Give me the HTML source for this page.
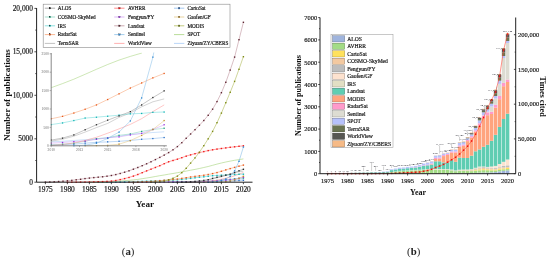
<!DOCTYPE html>
<html><head><meta charset="utf-8"><title>Figure</title>
<style>html,body{margin:0;padding:0;background:#fff}svg{display:block}</style></head>
<body>
<svg width="550" height="260" viewBox="0 0 550 260">
<rect width="550" height="260" fill="#fff"/>
<g id="a-main">
<polyline fill="none" stroke="#9cc4f5" stroke-width="0.55" points="146.6,182.2 151.0,182.2 155.4,182.1 159.8,182.1 164.2,182.0 168.6,181.9 173.0,181.9 177.4,181.8 181.8,181.7 186.2,181.6 190.6,181.5 195.0,181.4 199.4,181.3 203.8,181.1 208.2,180.9 212.6,180.8 217.0,180.6 221.4,180.3 225.8,179.9 230.2,179.6 234.6,179.3 239.0,179.1 243.4,178.9"/>
<polyline fill="none" stroke="#7fb0e8" stroke-width="0.55" points="173.0,182.2 177.4,182.2 181.8,182.2 186.2,182.1 190.6,182.1 195.0,182.0 199.4,182.0 203.8,181.9 208.2,181.8 212.6,181.6 217.0,181.4 221.4,181.3 225.8,181.1 230.2,181.0 234.6,180.7 239.0,180.5 243.4,180.2"/>
<g fill="#2b6fc4"><rect x="172.3" y="181.5" width="1.4" height="1.4"/><rect x="176.7" y="181.5" width="1.4" height="1.4"/><rect x="181.1" y="181.5" width="1.4" height="1.4"/><rect x="185.5" y="181.5" width="1.4" height="1.4"/><rect x="189.9" y="181.4" width="1.4" height="1.4"/><rect x="194.3" y="181.4" width="1.4" height="1.4"/><rect x="198.7" y="181.3" width="1.4" height="1.4"/><rect x="203.1" y="181.2" width="1.4" height="1.4"/><rect x="207.5" y="181.1" width="1.4" height="1.4"/><rect x="211.9" y="180.9" width="1.4" height="1.4"/><rect x="216.3" y="180.7" width="1.4" height="1.4"/><rect x="220.7" y="180.6" width="1.4" height="1.4"/><rect x="225.1" y="180.5" width="1.4" height="1.4"/><rect x="229.5" y="180.3" width="1.4" height="1.4"/><rect x="233.9" y="180.0" width="1.4" height="1.4"/><rect x="238.3" y="179.8" width="1.4" height="1.4"/><rect x="242.7" y="179.6" width="1.4" height="1.4"/></g>
<polyline fill="none" stroke="#7fd0b8" stroke-width="0.55" points="181.8,182.2 186.2,182.2 190.6,182.2 195.0,182.1 199.4,182.0 203.8,181.8 208.2,181.6 212.6,181.1 217.0,180.5 221.4,180.3 225.8,179.7 230.2,179.4 234.6,178.8 239.0,178.4 243.4,178.1"/>
<g fill="#1f9d7c"><rect x="181.1" y="181.5" width="1.4" height="1.4"/><rect x="185.5" y="181.5" width="1.4" height="1.4"/><rect x="189.9" y="181.5" width="1.4" height="1.4"/><rect x="194.3" y="181.4" width="1.4" height="1.4"/><rect x="198.7" y="181.4" width="1.4" height="1.4"/><rect x="203.1" y="181.1" width="1.4" height="1.4"/><rect x="207.5" y="180.9" width="1.4" height="1.4"/><rect x="211.9" y="180.5" width="1.4" height="1.4"/><rect x="216.3" y="179.8" width="1.4" height="1.4"/><rect x="220.7" y="179.6" width="1.4" height="1.4"/><rect x="225.1" y="179.0" width="1.4" height="1.4"/><rect x="229.5" y="178.7" width="1.4" height="1.4"/><rect x="233.9" y="178.1" width="1.4" height="1.4"/><rect x="238.3" y="177.7" width="1.4" height="1.4"/><rect x="242.7" y="177.4" width="1.4" height="1.4"/></g>
<polyline fill="none" stroke="#cf9af5" stroke-width="0.55" points="107.0,182.2 111.4,182.2 115.8,182.2 120.2,182.2 124.6,182.2 129.0,182.2 133.4,182.1 137.8,182.1 142.2,182.1 146.6,182.1 151.0,182.1 155.4,182.0 159.8,182.0 164.2,182.0 168.6,181.9 173.0,181.9 177.4,181.9 181.8,181.8 186.2,181.8 190.6,181.7 195.0,181.7 199.4,181.6 203.8,181.4 208.2,181.2 212.6,181.1 217.0,180.7 221.4,180.3 225.8,180.1 230.2,179.6 234.6,179.3 239.0,178.4 243.4,177.2"/>
<g fill="#9a32e0"><rect x="106.3" y="181.5" width="1.4" height="1.4"/><rect x="110.7" y="181.5" width="1.4" height="1.4"/><rect x="115.1" y="181.5" width="1.4" height="1.4"/><rect x="119.5" y="181.5" width="1.4" height="1.4"/><rect x="123.9" y="181.5" width="1.4" height="1.4"/><rect x="128.3" y="181.5" width="1.4" height="1.4"/><rect x="132.7" y="181.5" width="1.4" height="1.4"/><rect x="137.1" y="181.5" width="1.4" height="1.4"/><rect x="141.5" y="181.4" width="1.4" height="1.4"/><rect x="145.9" y="181.4" width="1.4" height="1.4"/><rect x="150.3" y="181.4" width="1.4" height="1.4"/><rect x="154.7" y="181.4" width="1.4" height="1.4"/><rect x="159.1" y="181.3" width="1.4" height="1.4"/><rect x="163.5" y="181.3" width="1.4" height="1.4"/><rect x="167.9" y="181.3" width="1.4" height="1.4"/><rect x="172.3" y="181.2" width="1.4" height="1.4"/><rect x="176.7" y="181.2" width="1.4" height="1.4"/><rect x="181.1" y="181.2" width="1.4" height="1.4"/><rect x="185.5" y="181.1" width="1.4" height="1.4"/><rect x="189.9" y="181.1" width="1.4" height="1.4"/><rect x="194.3" y="181.0" width="1.4" height="1.4"/><rect x="198.7" y="180.9" width="1.4" height="1.4"/><rect x="203.1" y="180.7" width="1.4" height="1.4"/><rect x="207.5" y="180.5" width="1.4" height="1.4"/><rect x="211.9" y="180.4" width="1.4" height="1.4"/><rect x="216.3" y="180.0" width="1.4" height="1.4"/><rect x="220.7" y="179.6" width="1.4" height="1.4"/><rect x="225.1" y="179.4" width="1.4" height="1.4"/><rect x="229.5" y="179.0" width="1.4" height="1.4"/><rect x="233.9" y="178.6" width="1.4" height="1.4"/><rect x="238.3" y="177.7" width="1.4" height="1.4"/><rect x="242.7" y="176.6" width="1.4" height="1.4"/></g>
<polyline fill="none" stroke="#e0c27a" stroke-width="0.55" points="212.6,182.2 217.0,182.2 221.4,182.1 225.8,181.8 230.2,181.0 234.6,179.7 239.0,178.3 243.4,176.2"/>
<g fill="#c2922e"><rect x="211.9" y="181.5" width="1.4" height="1.4"/><rect x="216.3" y="181.5" width="1.4" height="1.4"/><rect x="220.7" y="181.4" width="1.4" height="1.4"/><rect x="225.1" y="181.1" width="1.4" height="1.4"/><rect x="229.5" y="180.3" width="1.4" height="1.4"/><rect x="233.9" y="179.1" width="1.4" height="1.4"/><rect x="238.3" y="177.7" width="1.4" height="1.4"/><rect x="242.7" y="175.6" width="1.4" height="1.4"/></g>
<polyline fill="none" stroke="#ff8f8f" stroke-width="0.55" points="186.2,182.2 190.6,182.2 195.0,182.2 199.4,182.1 203.8,181.9 208.2,181.5 212.6,180.9 217.0,180.2 221.4,179.2 225.8,178.2 230.2,177.2 234.6,175.8 239.0,174.1 243.4,172.5"/>
<polyline fill="none" stroke="#a8a8a8" stroke-width="0.55" points="181.8,182.2 186.2,182.2 190.6,182.0 195.0,181.6 199.4,181.1 203.8,180.6 208.2,179.9 212.6,179.0 217.0,177.9 221.4,176.9 225.8,175.5 230.2,174.5 234.6,173.0 239.0,171.8 243.4,171.1"/>
<polyline fill="none" stroke="#5fd6d6" stroke-width="0.55" points="98.2,182.2 102.6,182.2 107.0,182.2 111.4,182.1 115.8,182.1 120.2,182.0 124.6,181.9 129.0,181.8 133.4,181.7 137.8,181.5 142.2,181.3 146.6,181.2 151.0,181.0 155.4,180.8 159.8,180.6 164.2,180.4 168.6,180.2 173.0,180.0 177.4,179.8 181.8,179.4 186.2,178.9 190.6,178.4 195.0,177.8 199.4,177.2 203.8,176.8 208.2,176.2 212.6,175.7 217.0,175.4 221.4,175.2 225.8,175.0 230.2,174.7 234.6,174.6 239.0,174.3 243.4,174.2"/>
<g fill="#12b4b4"><rect x="97.5" y="181.5" width="1.4" height="1.4"/><rect x="101.9" y="181.5" width="1.4" height="1.4"/><rect x="106.3" y="181.5" width="1.4" height="1.4"/><rect x="110.7" y="181.5" width="1.4" height="1.4"/><rect x="115.1" y="181.4" width="1.4" height="1.4"/><rect x="119.5" y="181.3" width="1.4" height="1.4"/><rect x="123.9" y="181.3" width="1.4" height="1.4"/><rect x="128.3" y="181.1" width="1.4" height="1.4"/><rect x="132.7" y="181.0" width="1.4" height="1.4"/><rect x="137.1" y="180.8" width="1.4" height="1.4"/><rect x="141.5" y="180.7" width="1.4" height="1.4"/><rect x="145.9" y="180.5" width="1.4" height="1.4"/><rect x="150.3" y="180.3" width="1.4" height="1.4"/><rect x="154.7" y="180.1" width="1.4" height="1.4"/><rect x="159.1" y="179.9" width="1.4" height="1.4"/><rect x="163.5" y="179.7" width="1.4" height="1.4"/><rect x="167.9" y="179.5" width="1.4" height="1.4"/><rect x="172.3" y="179.4" width="1.4" height="1.4"/><rect x="176.7" y="179.1" width="1.4" height="1.4"/><rect x="181.1" y="178.8" width="1.4" height="1.4"/><rect x="185.5" y="178.2" width="1.4" height="1.4"/><rect x="189.9" y="177.7" width="1.4" height="1.4"/><rect x="194.3" y="177.1" width="1.4" height="1.4"/><rect x="198.7" y="176.5" width="1.4" height="1.4"/><rect x="203.1" y="176.1" width="1.4" height="1.4"/><rect x="207.5" y="175.6" width="1.4" height="1.4"/><rect x="211.9" y="175.0" width="1.4" height="1.4"/><rect x="216.3" y="174.8" width="1.4" height="1.4"/><rect x="220.7" y="174.5" width="1.4" height="1.4"/><rect x="225.1" y="174.3" width="1.4" height="1.4"/><rect x="229.5" y="174.0" width="1.4" height="1.4"/><rect x="233.9" y="173.9" width="1.4" height="1.4"/><rect x="238.3" y="173.6" width="1.4" height="1.4"/><rect x="242.7" y="173.5" width="1.4" height="1.4"/></g>
<polyline fill="none" stroke="#8c8c8c" stroke-width="0.55" points="177.4,182.2 181.8,182.2 186.2,182.1 190.6,181.8 195.0,181.4 199.4,180.9 203.8,180.4 208.2,179.6 212.6,178.4 217.0,177.2 221.4,176.2 225.8,175.1 230.2,174.1 234.6,172.5 239.0,170.8 243.4,169.2"/>
<g fill="#2a2a2a"><rect x="176.7" y="181.5" width="1.4" height="1.4"/><rect x="181.1" y="181.5" width="1.4" height="1.4"/><rect x="185.5" y="181.4" width="1.4" height="1.4"/><rect x="189.9" y="181.1" width="1.4" height="1.4"/><rect x="194.3" y="180.7" width="1.4" height="1.4"/><rect x="198.7" y="180.2" width="1.4" height="1.4"/><rect x="203.1" y="179.7" width="1.4" height="1.4"/><rect x="207.5" y="179.0" width="1.4" height="1.4"/><rect x="211.9" y="177.7" width="1.4" height="1.4"/><rect x="216.3" y="176.6" width="1.4" height="1.4"/><rect x="220.7" y="175.5" width="1.4" height="1.4"/><rect x="225.1" y="174.5" width="1.4" height="1.4"/><rect x="229.5" y="173.5" width="1.4" height="1.4"/><rect x="233.9" y="171.9" width="1.4" height="1.4"/><rect x="238.3" y="170.1" width="1.4" height="1.4"/><rect x="242.7" y="168.6" width="1.4" height="1.4"/></g>
<polyline fill="none" stroke="#f79a66" stroke-width="0.55" points="129.0,182.2 133.4,182.2 137.8,182.1 142.2,181.9 146.6,181.7 151.0,181.4 155.4,181.1 159.8,180.7 164.2,180.3 168.6,179.9 173.0,179.5 177.4,179.0 181.8,178.4 186.2,177.7 190.6,177.0 195.0,176.4 199.4,175.8 203.8,175.2 208.2,174.5 212.6,173.6 217.0,172.5 221.4,171.3 225.8,169.9 230.2,168.6 234.6,167.4 239.0,166.2 243.4,165.1"/>
<g fill="#e8581a"><rect x="128.3" y="181.5" width="1.4" height="1.4"/><rect x="132.7" y="181.5" width="1.4" height="1.4"/><rect x="137.1" y="181.4" width="1.4" height="1.4"/><rect x="141.5" y="181.2" width="1.4" height="1.4"/><rect x="145.9" y="181.0" width="1.4" height="1.4"/><rect x="150.3" y="180.7" width="1.4" height="1.4"/><rect x="154.7" y="180.4" width="1.4" height="1.4"/><rect x="159.1" y="180.0" width="1.4" height="1.4"/><rect x="163.5" y="179.6" width="1.4" height="1.4"/><rect x="167.9" y="179.2" width="1.4" height="1.4"/><rect x="172.3" y="178.8" width="1.4" height="1.4"/><rect x="176.7" y="178.4" width="1.4" height="1.4"/><rect x="181.1" y="177.7" width="1.4" height="1.4"/><rect x="185.5" y="177.0" width="1.4" height="1.4"/><rect x="189.9" y="176.3" width="1.4" height="1.4"/><rect x="194.3" y="175.7" width="1.4" height="1.4"/><rect x="198.7" y="175.1" width="1.4" height="1.4"/><rect x="203.1" y="174.6" width="1.4" height="1.4"/><rect x="207.5" y="173.8" width="1.4" height="1.4"/><rect x="211.9" y="172.9" width="1.4" height="1.4"/><rect x="216.3" y="171.9" width="1.4" height="1.4"/><rect x="220.7" y="170.6" width="1.4" height="1.4"/><rect x="225.1" y="169.2" width="1.4" height="1.4"/><rect x="229.5" y="167.9" width="1.4" height="1.4"/><rect x="233.9" y="166.7" width="1.4" height="1.4"/><rect x="238.3" y="165.5" width="1.4" height="1.4"/><rect x="242.7" y="164.4" width="1.4" height="1.4"/></g>
<polyline fill="none" stroke="#9ccf6e" stroke-width="0.55" points="89.4,182.2 93.8,182.2 98.2,182.1 102.6,182.0 107.0,181.9 111.4,181.7 115.8,181.4 120.2,181.1 124.6,180.7 129.0,180.3 133.4,179.9 137.8,179.4 142.2,178.7 146.6,178.0 151.0,177.3 155.4,176.5 159.8,175.7 164.2,175.0 168.6,174.2 173.0,173.5 177.4,172.7 181.8,171.9 186.2,171.1 190.6,170.2 195.0,169.4 199.4,168.5 203.8,167.5 208.2,166.5 212.6,165.3 217.0,164.1 221.4,163.0 225.8,162.0 230.2,161.1 234.6,160.3 239.0,159.6 243.4,158.9"/>
<polyline fill="none" stroke="#ff5a5a" stroke-width="0.55" points="67.4,182.2 71.8,182.2 76.2,182.1 80.6,182.1 85.0,182.0 89.4,181.9 93.8,181.8 98.2,181.7 102.6,181.5 107.0,181.4 111.4,181.1 115.8,180.5 120.2,179.6 124.6,178.6 129.0,177.4 133.4,176.1 137.8,174.5 142.2,172.6 146.6,170.9 151.0,169.2 155.4,167.4 159.8,165.7 164.2,163.7 168.6,161.8 173.0,160.4 177.4,159.2 181.8,157.6 186.2,156.1 190.6,154.8 195.0,153.7 199.4,152.6 203.8,151.6 208.2,150.6 212.6,149.8 217.0,149.1 221.4,148.5 225.8,147.9 230.2,147.3 234.6,146.8 239.0,146.3 243.4,145.8"/>
<g fill="#f01818"><rect x="66.7" y="181.5" width="1.4" height="1.4"/><rect x="71.1" y="181.5" width="1.4" height="1.4"/><rect x="75.5" y="181.5" width="1.4" height="1.4"/><rect x="79.9" y="181.4" width="1.4" height="1.4"/><rect x="84.3" y="181.4" width="1.4" height="1.4"/><rect x="88.7" y="181.3" width="1.4" height="1.4"/><rect x="93.1" y="181.2" width="1.4" height="1.4"/><rect x="97.5" y="181.0" width="1.4" height="1.4"/><rect x="101.9" y="180.9" width="1.4" height="1.4"/><rect x="106.3" y="180.7" width="1.4" height="1.4"/><rect x="110.7" y="180.4" width="1.4" height="1.4"/><rect x="115.1" y="179.8" width="1.4" height="1.4"/><rect x="119.5" y="178.9" width="1.4" height="1.4"/><rect x="123.9" y="177.9" width="1.4" height="1.4"/><rect x="128.3" y="176.8" width="1.4" height="1.4"/><rect x="132.7" y="175.4" width="1.4" height="1.4"/><rect x="137.1" y="173.8" width="1.4" height="1.4"/><rect x="141.5" y="172.0" width="1.4" height="1.4"/><rect x="145.9" y="170.2" width="1.4" height="1.4"/><rect x="150.3" y="168.5" width="1.4" height="1.4"/><rect x="154.7" y="166.8" width="1.4" height="1.4"/><rect x="159.1" y="165.0" width="1.4" height="1.4"/><rect x="163.5" y="163.0" width="1.4" height="1.4"/><rect x="167.9" y="161.1" width="1.4" height="1.4"/><rect x="172.3" y="159.8" width="1.4" height="1.4"/><rect x="176.7" y="158.5" width="1.4" height="1.4"/><rect x="181.1" y="157.0" width="1.4" height="1.4"/><rect x="185.5" y="155.5" width="1.4" height="1.4"/><rect x="189.9" y="154.2" width="1.4" height="1.4"/><rect x="194.3" y="153.0" width="1.4" height="1.4"/><rect x="198.7" y="151.9" width="1.4" height="1.4"/><rect x="203.1" y="150.9" width="1.4" height="1.4"/><rect x="207.5" y="149.9" width="1.4" height="1.4"/><rect x="211.9" y="149.1" width="1.4" height="1.4"/><rect x="216.3" y="148.4" width="1.4" height="1.4"/><rect x="220.7" y="147.8" width="1.4" height="1.4"/><rect x="225.1" y="147.2" width="1.4" height="1.4"/><rect x="229.5" y="146.6" width="1.4" height="1.4"/><rect x="233.9" y="146.1" width="1.4" height="1.4"/><rect x="238.3" y="145.6" width="1.4" height="1.4"/><rect x="242.7" y="145.1" width="1.4" height="1.4"/></g>
<polyline fill="none" stroke="#7db8e6" stroke-width="0.55" points="208.2,182.2 212.6,182.1 217.0,181.6 221.4,180.5 225.8,179.0 230.2,176.3 234.6,170.9 239.0,161.3 243.4,147.0"/>
<g fill="#2c86cf"><rect x="207.5" y="181.5" width="1.4" height="1.4"/><rect x="211.9" y="181.4" width="1.4" height="1.4"/><rect x="216.3" y="180.9" width="1.4" height="1.4"/><rect x="220.7" y="179.8" width="1.4" height="1.4"/><rect x="225.1" y="178.3" width="1.4" height="1.4"/><rect x="229.5" y="175.7" width="1.4" height="1.4"/><rect x="233.9" y="170.2" width="1.4" height="1.4"/><rect x="238.3" y="160.6" width="1.4" height="1.4"/><rect x="242.7" y="146.3" width="1.4" height="1.4"/></g>
<polyline fill="none" stroke="#a9b44a" stroke-width="0.55" points="151.0,182.2 155.4,182.1 159.8,181.8 164.2,181.1 168.6,179.9 173.0,178.3 177.4,176.1 181.8,172.6 186.2,168.3 190.6,163.1 195.0,157.9 199.4,152.2 203.8,145.7 208.2,138.8 212.6,131.4 217.0,122.7 221.4,113.1 225.8,102.7 230.2,92.3 234.6,81.4 239.0,69.2 243.4,56.6"/>
<g fill="#7d8a14"><rect x="150.3" y="181.5" width="1.4" height="1.4"/><rect x="154.7" y="181.4" width="1.4" height="1.4"/><rect x="159.1" y="181.1" width="1.4" height="1.4"/><rect x="163.5" y="180.4" width="1.4" height="1.4"/><rect x="167.9" y="179.3" width="1.4" height="1.4"/><rect x="172.3" y="177.6" width="1.4" height="1.4"/><rect x="176.7" y="175.4" width="1.4" height="1.4"/><rect x="181.1" y="172.0" width="1.4" height="1.4"/><rect x="185.5" y="167.6" width="1.4" height="1.4"/><rect x="189.9" y="162.4" width="1.4" height="1.4"/><rect x="194.3" y="157.2" width="1.4" height="1.4"/><rect x="198.7" y="151.5" width="1.4" height="1.4"/><rect x="203.1" y="145.0" width="1.4" height="1.4"/><rect x="207.5" y="138.1" width="1.4" height="1.4"/><rect x="211.9" y="130.7" width="1.4" height="1.4"/><rect x="216.3" y="122.0" width="1.4" height="1.4"/><rect x="220.7" y="112.4" width="1.4" height="1.4"/><rect x="225.1" y="102.0" width="1.4" height="1.4"/><rect x="229.5" y="91.6" width="1.4" height="1.4"/><rect x="233.9" y="80.7" width="1.4" height="1.4"/><rect x="238.3" y="68.6" width="1.4" height="1.4"/><rect x="242.7" y="56.0" width="1.4" height="1.4"/></g>
<polyline fill="none" stroke="#b98a94" stroke-width="0.55" points="45.4,182.1 49.8,182.0 54.2,181.8 58.6,181.5 63.0,181.2 67.4,180.8 71.8,180.3 76.2,179.8 80.6,179.2 85.0,178.6 89.4,178.0 93.8,177.6 98.2,177.2 102.6,176.7 107.0,176.2 111.4,175.5 115.8,174.6 120.2,173.4 124.6,172.2 129.0,170.8 133.4,169.2 137.8,167.5 142.2,165.7 146.6,163.8 151.0,161.7 155.4,159.6 159.8,157.4 164.2,155.1 168.6,152.6 173.0,149.8 177.4,146.6 181.8,142.6 186.2,138.3 190.6,134.0 195.0,129.6 199.4,125.3 203.8,120.5 208.2,115.3 212.6,109.2 217.0,101.6 221.4,92.7 225.8,82.3 230.2,70.1 234.6,57.1 239.0,39.7 243.4,22.3"/>
<g fill="#5e2430"><rect x="44.7" y="181.4" width="1.4" height="1.4"/><rect x="49.1" y="181.3" width="1.4" height="1.4"/><rect x="53.5" y="181.1" width="1.4" height="1.4"/><rect x="57.9" y="180.8" width="1.4" height="1.4"/><rect x="62.3" y="180.5" width="1.4" height="1.4"/><rect x="66.7" y="180.1" width="1.4" height="1.4"/><rect x="71.1" y="179.7" width="1.4" height="1.4"/><rect x="75.5" y="179.1" width="1.4" height="1.4"/><rect x="79.9" y="178.6" width="1.4" height="1.4"/><rect x="84.3" y="177.9" width="1.4" height="1.4"/><rect x="88.7" y="177.4" width="1.4" height="1.4"/><rect x="93.1" y="176.9" width="1.4" height="1.4"/><rect x="97.5" y="176.5" width="1.4" height="1.4"/><rect x="101.9" y="176.1" width="1.4" height="1.4"/><rect x="106.3" y="175.5" width="1.4" height="1.4"/><rect x="110.7" y="174.8" width="1.4" height="1.4"/><rect x="115.1" y="173.9" width="1.4" height="1.4"/><rect x="119.5" y="172.8" width="1.4" height="1.4"/><rect x="123.9" y="171.5" width="1.4" height="1.4"/><rect x="128.3" y="170.1" width="1.4" height="1.4"/><rect x="132.7" y="168.5" width="1.4" height="1.4"/><rect x="137.1" y="166.8" width="1.4" height="1.4"/><rect x="141.5" y="165.0" width="1.4" height="1.4"/><rect x="145.9" y="163.1" width="1.4" height="1.4"/><rect x="150.3" y="161.1" width="1.4" height="1.4"/><rect x="154.7" y="158.9" width="1.4" height="1.4"/><rect x="159.1" y="156.7" width="1.4" height="1.4"/><rect x="163.5" y="154.4" width="1.4" height="1.4"/><rect x="167.9" y="151.9" width="1.4" height="1.4"/><rect x="172.3" y="149.1" width="1.4" height="1.4"/><rect x="176.7" y="145.9" width="1.4" height="1.4"/><rect x="181.1" y="142.0" width="1.4" height="1.4"/><rect x="185.5" y="137.6" width="1.4" height="1.4"/><rect x="189.9" y="133.3" width="1.4" height="1.4"/><rect x="194.3" y="129.0" width="1.4" height="1.4"/><rect x="198.7" y="124.6" width="1.4" height="1.4"/><rect x="203.1" y="119.8" width="1.4" height="1.4"/><rect x="207.5" y="114.6" width="1.4" height="1.4"/><rect x="211.9" y="108.5" width="1.4" height="1.4"/><rect x="216.3" y="100.9" width="1.4" height="1.4"/><rect x="220.7" y="92.0" width="1.4" height="1.4"/><rect x="225.1" y="81.6" width="1.4" height="1.4"/><rect x="229.5" y="69.4" width="1.4" height="1.4"/><rect x="233.9" y="56.4" width="1.4" height="1.4"/><rect x="238.3" y="39.0" width="1.4" height="1.4"/><rect x="242.7" y="21.6" width="1.4" height="1.4"/></g>
</g>
<g stroke="#222" stroke-width="1" fill="none">
<path d="M36.6 8 V182.2 H252.5"/>
</g>
<g stroke="#222" stroke-width="0.8">
<line x1="34.4" x2="36.6" y1="182.2" y2="182.2"/>
<line x1="34.4" x2="36.6" y1="138.8" y2="138.8"/>
<line x1="34.4" x2="36.6" y1="95.3" y2="95.3"/>
<line x1="34.4" x2="36.6" y1="51.8" y2="51.8"/>
<line x1="34.4" x2="36.6" y1="8.4" y2="8.4"/>
<line x1="35.3" x2="36.6" y1="160.5" y2="160.5"/>
<line x1="35.3" x2="36.6" y1="117.0" y2="117.0"/>
<line x1="35.3" x2="36.6" y1="73.6" y2="73.6"/>
<line x1="35.3" x2="36.6" y1="30.1" y2="30.1"/>
<line x1="45.4" x2="45.4" y1="182.2" y2="184.2"/>
<line x1="67.4" x2="67.4" y1="182.2" y2="184.2"/>
<line x1="89.4" x2="89.4" y1="182.2" y2="184.2"/>
<line x1="111.4" x2="111.4" y1="182.2" y2="184.2"/>
<line x1="133.4" x2="133.4" y1="182.2" y2="184.2"/>
<line x1="155.4" x2="155.4" y1="182.2" y2="184.2"/>
<line x1="177.4" x2="177.4" y1="182.2" y2="184.2"/>
<line x1="199.4" x2="199.4" y1="182.2" y2="184.2"/>
<line x1="221.4" x2="221.4" y1="182.2" y2="184.2"/>
<line x1="243.4" x2="243.4" y1="182.2" y2="184.2"/>
</g>
<g font-family="'Liberation Serif', serif" font-size="7.4" fill="#1a1a1a" stroke="#1a1a1a" stroke-width="0.18">
<text x="33" y="184.7" text-anchor="end">0</text>
<text x="33" y="141.2" text-anchor="end">5000</text>
<text x="33" y="97.8" text-anchor="end">10,000</text>
<text x="33" y="54.3" text-anchor="end">15,000</text>
<text x="33" y="10.9" text-anchor="end">20,000</text>
<text x="45.4" y="191.6" text-anchor="middle">1975</text>
<text x="67.4" y="191.6" text-anchor="middle">1980</text>
<text x="89.4" y="191.6" text-anchor="middle">1985</text>
<text x="111.4" y="191.6" text-anchor="middle">1990</text>
<text x="133.4" y="191.6" text-anchor="middle">1995</text>
<text x="155.4" y="191.6" text-anchor="middle">2000</text>
<text x="177.4" y="191.6" text-anchor="middle">2005</text>
<text x="199.4" y="191.6" text-anchor="middle">2010</text>
<text x="221.4" y="191.6" text-anchor="middle">2015</text>
<text x="243.4" y="191.6" text-anchor="middle">2020</text>
</g>
<text font-family="'Liberation Serif', serif" font-size="9.1" font-weight="bold" fill="#111" text-anchor="middle" transform="translate(9.6,95) rotate(-90)">Number of publications</text>
<text font-family="'Liberation Serif', serif" font-size="9.1" font-weight="bold" fill="#111" text-anchor="middle" x="144.9" y="206.7">Year</text>
<rect x="43.2" y="4.2" width="186.8" height="43.2" fill="#fff" stroke="#8a8a8a" stroke-width="0.6"/>
<g font-family="'Liberation Serif', serif" font-size="5.2" fill="#222" stroke="#222" stroke-width="0.2">
<line x1="44.8" x2="55.1" y1="8.2" y2="8.2" stroke="#8c8c8c" stroke-width="0.7"/>
<rect x="49.1" y="7.4" width="1.6" height="1.6" fill="#2a2a2a"/>
<text x="57.8" y="9.9">ALOS</text>
<line x1="114.2" x2="124.5" y1="8.2" y2="8.2" stroke="#ff5a5a" stroke-width="0.7"/>
<rect x="118.6" y="7.4" width="1.6" height="1.6" fill="#f01818"/>
<text x="128.0" y="9.9">AVHRR</text>
<line x1="174.0" x2="184.3" y1="8.2" y2="8.2" stroke="#7fb0e8" stroke-width="0.7"/>
<rect x="178.3" y="7.4" width="1.6" height="1.6" fill="#2b6fc4"/>
<text x="187.4" y="9.9">CartoSat</text>
<line x1="44.8" x2="55.1" y1="17.0" y2="17.0" stroke="#7fd0b8" stroke-width="0.7"/>
<rect x="49.1" y="16.2" width="1.6" height="1.6" fill="#1f9d7c"/>
<text x="57.8" y="18.7">COSMO-SkyMed</text>
<line x1="114.2" x2="124.5" y1="17.0" y2="17.0" stroke="#cf9af5" stroke-width="0.7"/>
<rect x="118.6" y="16.2" width="1.6" height="1.6" fill="#9a32e0"/>
<text x="128.0" y="18.7">Fengyun/FY</text>
<line x1="174.0" x2="184.3" y1="17.0" y2="17.0" stroke="#e0c27a" stroke-width="0.7"/>
<rect x="178.3" y="16.2" width="1.6" height="1.6" fill="#c2922e"/>
<text x="187.4" y="18.7">Gaofen/GF</text>
<line x1="44.8" x2="55.1" y1="25.8" y2="25.8" stroke="#5fd6d6" stroke-width="0.7"/>
<rect x="49.1" y="25.0" width="1.6" height="1.6" fill="#12b4b4"/>
<text x="57.8" y="27.5">IRS</text>
<line x1="114.2" x2="124.5" y1="25.8" y2="25.8" stroke="#b98a94" stroke-width="0.7"/>
<rect x="118.6" y="25.0" width="1.6" height="1.6" fill="#5e2430"/>
<text x="128.0" y="27.5">Landsat</text>
<line x1="174.0" x2="184.3" y1="25.8" y2="25.8" stroke="#a9b44a" stroke-width="0.7"/>
<rect x="178.3" y="25.0" width="1.6" height="1.6" fill="#7d8a14"/>
<text x="187.4" y="27.5">MODIS</text>
<line x1="44.8" x2="55.1" y1="34.6" y2="34.6" stroke="#f79a66" stroke-width="0.7"/>
<rect x="49.1" y="33.8" width="1.6" height="1.6" fill="#e8581a"/>
<text x="57.8" y="36.3">RadarSat</text>
<line x1="114.2" x2="124.5" y1="34.6" y2="34.6" stroke="#7db8e6" stroke-width="0.7"/>
<rect x="118.6" y="33.8" width="1.6" height="1.6" fill="#2c86cf"/>
<text x="128.0" y="36.3">Sentinel</text>
<line x1="174.0" x2="184.3" y1="34.6" y2="34.6" stroke="#9ccf6e" stroke-width="0.7"/>
<text x="187.4" y="36.3">SPOT</text>
<line x1="44.8" x2="55.1" y1="43.4" y2="43.4" stroke="#a8a8a8" stroke-width="0.7"/>
<text x="57.8" y="45.1">TerraSAR</text>
<line x1="114.2" x2="124.5" y1="43.4" y2="43.4" stroke="#ff8f8f" stroke-width="0.7"/>
<text x="128.0" y="45.1">WorldView</text>
<line x1="174.0" x2="184.3" y1="43.4" y2="43.4" stroke="#9cc4f5" stroke-width="0.7"/>
<text x="187.4" y="45.1">Ziyuan/ZY/CBERS</text>
</g>
<clipPath id="ic"><rect x="50.7" y="52.6" width="116" height="94.2"/></clipPath>
<g clip-path="url(#ic)">
<polyline fill="none" stroke="#9cc4f5" stroke-width="0.5" points="51.2,141.9 62.5,141.3 73.8,140.5 85.1,139.7 96.4,138.8 107.7,137.8 119.0,136.2 130.3,134.6 141.6,133.5 152.9,132.5 164.2,131.8"/>
<polyline fill="none" stroke="#7fb0e8" stroke-width="0.5" points="51.2,144.9 62.5,144.6 73.8,144.2 85.1,143.2 96.4,142.3 107.7,141.9 119.0,141.3 130.3,140.5 141.6,139.3 152.9,138.6 164.2,137.5"/>
<g fill="#2b6fc4"><rect x="50.6" y="144.2" width="1.3" height="1.3"/><rect x="61.9" y="144.0" width="1.3" height="1.3"/><rect x="73.2" y="143.5" width="1.3" height="1.3"/><rect x="84.5" y="142.5" width="1.3" height="1.3"/><rect x="95.8" y="141.7" width="1.3" height="1.3"/><rect x="107.0" y="141.2" width="1.3" height="1.3"/><rect x="118.4" y="140.6" width="1.3" height="1.3"/><rect x="129.7" y="139.9" width="1.3" height="1.3"/><rect x="141.0" y="138.6" width="1.3" height="1.3"/><rect x="152.2" y="137.9" width="1.3" height="1.3"/><rect x="163.5" y="136.9" width="1.3" height="1.3"/></g>
<polyline fill="none" stroke="#7fd0b8" stroke-width="0.5" points="51.2,145.1 62.5,144.2 73.8,143.2 85.1,141.3 96.4,138.7 107.7,137.8 119.0,135.3 130.3,134.0 141.6,131.4 152.9,129.5 164.2,128.3"/>
<g fill="#1f9d7c"><rect x="50.6" y="144.4" width="1.3" height="1.3"/><rect x="61.9" y="143.5" width="1.3" height="1.3"/><rect x="73.2" y="142.6" width="1.3" height="1.3"/><rect x="84.5" y="140.6" width="1.3" height="1.3"/><rect x="95.8" y="138.0" width="1.3" height="1.3"/><rect x="107.0" y="137.2" width="1.3" height="1.3"/><rect x="118.4" y="134.7" width="1.3" height="1.3"/><rect x="129.7" y="133.3" width="1.3" height="1.3"/><rect x="141.0" y="130.8" width="1.3" height="1.3"/><rect x="152.2" y="128.8" width="1.3" height="1.3"/><rect x="163.5" y="127.6" width="1.3" height="1.3"/></g>
<polyline fill="none" stroke="#cf9af5" stroke-width="0.5" points="51.2,143.2 62.5,142.5 73.8,141.6 85.1,141.0 96.4,139.4 107.7,137.8 119.0,136.9 130.3,134.9 141.6,133.4 152.9,129.5 164.2,124.8"/>
<g fill="#9a32e0"><rect x="50.6" y="142.5" width="1.3" height="1.3"/><rect x="61.9" y="141.8" width="1.3" height="1.3"/><rect x="73.2" y="141.0" width="1.3" height="1.3"/><rect x="84.5" y="140.4" width="1.3" height="1.3"/><rect x="95.8" y="138.7" width="1.3" height="1.3"/><rect x="107.0" y="137.2" width="1.3" height="1.3"/><rect x="118.4" y="136.2" width="1.3" height="1.3"/><rect x="129.7" y="134.3" width="1.3" height="1.3"/><rect x="141.0" y="132.7" width="1.3" height="1.3"/><rect x="152.2" y="128.8" width="1.3" height="1.3"/><rect x="163.5" y="124.1" width="1.3" height="1.3"/></g>
<polyline fill="none" stroke="#e0c27a" stroke-width="0.5" points="85.1,145.8 96.4,145.7 107.7,145.4 119.0,144.2 130.3,140.6 141.6,135.4 152.9,129.5 164.2,120.6"/>
<g fill="#c2922e"><rect x="84.5" y="145.2" width="1.3" height="1.3"/><rect x="95.8" y="145.0" width="1.3" height="1.3"/><rect x="107.0" y="144.8" width="1.3" height="1.3"/><rect x="118.4" y="143.5" width="1.3" height="1.3"/><rect x="129.7" y="140.0" width="1.3" height="1.3"/><rect x="141.0" y="134.8" width="1.3" height="1.3"/><rect x="152.2" y="128.8" width="1.3" height="1.3"/><rect x="163.5" y="119.9" width="1.3" height="1.3"/></g>
<polyline fill="none" stroke="#ff8f8f" stroke-width="0.5" points="51.2,145.4 62.5,144.5 73.8,143.0 85.1,140.5 96.4,137.3 107.7,133.2 119.0,128.9 130.3,124.4 141.6,118.7 152.9,111.6 164.2,104.9"/>
<polyline fill="none" stroke="#a8a8a8" stroke-width="0.5" points="51.2,141.2 62.5,139.2 73.8,136.2 85.1,132.1 96.4,127.6 107.7,123.4 119.0,117.4 130.3,113.0 141.6,106.8 152.9,101.8 164.2,98.9"/>
<polyline fill="none" stroke="#5fd6d6" stroke-width="0.5" points="51.2,124.6 62.5,122.9 73.8,120.6 85.1,118.1 96.4,117.2 107.7,116.2 119.0,115.2 130.3,113.9 141.6,113.4 152.9,112.4 164.2,112.0"/>
<g fill="#12b4b4"><rect x="50.6" y="124.0" width="1.3" height="1.3"/><rect x="61.9" y="122.3" width="1.3" height="1.3"/><rect x="73.2" y="119.9" width="1.3" height="1.3"/><rect x="84.5" y="117.4" width="1.3" height="1.3"/><rect x="95.8" y="116.6" width="1.3" height="1.3"/><rect x="107.0" y="115.6" width="1.3" height="1.3"/><rect x="118.4" y="114.5" width="1.3" height="1.3"/><rect x="129.7" y="113.2" width="1.3" height="1.3"/><rect x="141.0" y="112.8" width="1.3" height="1.3"/><rect x="152.2" y="111.7" width="1.3" height="1.3"/><rect x="163.5" y="111.4" width="1.3" height="1.3"/></g>
<polyline fill="none" stroke="#8c8c8c" stroke-width="0.5" points="51.2,140.1 62.5,138.1 73.8,134.9 85.1,129.8 96.4,124.8 107.7,120.2 119.0,115.9 130.3,111.7 141.6,104.9 152.9,97.6 164.2,90.9"/>
<g fill="#2a2a2a"><rect x="50.6" y="139.4" width="1.3" height="1.3"/><rect x="61.9" y="137.5" width="1.3" height="1.3"/><rect x="73.2" y="134.3" width="1.3" height="1.3"/><rect x="84.5" y="129.1" width="1.3" height="1.3"/><rect x="95.8" y="124.1" width="1.3" height="1.3"/><rect x="107.0" y="119.5" width="1.3" height="1.3"/><rect x="118.4" y="115.3" width="1.3" height="1.3"/><rect x="129.7" y="111.0" width="1.3" height="1.3"/><rect x="141.0" y="104.3" width="1.3" height="1.3"/><rect x="152.2" y="96.9" width="1.3" height="1.3"/><rect x="163.5" y="90.2" width="1.3" height="1.3"/></g>
<polyline fill="none" stroke="#f79a66" stroke-width="0.5" points="51.2,118.8 62.5,116.4 73.8,113.0 85.1,109.3 96.4,104.9 107.7,99.5 119.0,93.8 130.3,88.1 141.6,83.0 152.9,77.9 164.2,73.4"/>
<g fill="#e8581a"><rect x="50.6" y="118.1" width="1.3" height="1.3"/><rect x="61.9" y="115.7" width="1.3" height="1.3"/><rect x="73.2" y="112.4" width="1.3" height="1.3"/><rect x="84.5" y="108.6" width="1.3" height="1.3"/><rect x="95.8" y="104.3" width="1.3" height="1.3"/><rect x="107.0" y="98.9" width="1.3" height="1.3"/><rect x="118.4" y="93.2" width="1.3" height="1.3"/><rect x="129.7" y="87.4" width="1.3" height="1.3"/><rect x="141.0" y="82.3" width="1.3" height="1.3"/><rect x="152.2" y="77.2" width="1.3" height="1.3"/><rect x="163.5" y="72.8" width="1.3" height="1.3"/></g>
<polyline fill="none" stroke="#9ccf6e" stroke-width="0.5" points="51.2,87.7 62.5,83.6 73.8,79.2 85.1,74.3 96.4,69.3 107.7,64.5 119.0,60.1 130.3,56.4 141.6,53.1 141.9,53.0"/>
<polyline fill="none" stroke="#7db8e6" stroke-width="0.5" points="73.8,145.8 85.1,145.2 96.4,143.2 107.7,138.4 119.0,132.1 130.3,121.0 141.6,98.0 152.9,57.2 164.2,-3.4"/>
<g fill="#2c86cf"><rect x="73.2" y="145.2" width="1.3" height="1.3"/><rect x="84.5" y="144.6" width="1.3" height="1.3"/><rect x="95.8" y="142.6" width="1.3" height="1.3"/><rect x="107.0" y="137.8" width="1.3" height="1.3"/><rect x="118.4" y="131.5" width="1.3" height="1.3"/><rect x="129.7" y="120.3" width="1.3" height="1.3"/><rect x="141.0" y="97.3" width="1.3" height="1.3"/><rect x="152.2" y="56.5" width="1.3" height="1.3"/><rect x="163.5" y="-4.1" width="1.3" height="1.3"/></g>
</g>
<path d="M51.2 53 V145.8 H166.8" fill="none" stroke="#7a7a7a" stroke-width="0.9"/>
<g stroke="#7a7a7a" stroke-width="0.6">
<line x1="49.7" x2="51.2" y1="145.8" y2="145.8"/>
<line x1="49.7" x2="51.2" y1="127.4" y2="127.4"/>
<line x1="49.7" x2="51.2" y1="109.0" y2="109.0"/>
<line x1="49.7" x2="51.2" y1="90.6" y2="90.6"/>
<line x1="49.7" x2="51.2" y1="72.2" y2="72.2"/>
<line x1="49.7" x2="51.2" y1="53.8" y2="53.8"/>
<line x1="51.2" x2="51.2" y1="145.8" y2="147.1"/>
<line x1="79.5" x2="79.5" y1="145.8" y2="147.1"/>
<line x1="107.7" x2="107.7" y1="145.8" y2="147.1"/>
<line x1="135.9" x2="135.9" y1="145.8" y2="147.1"/>
<line x1="164.2" x2="164.2" y1="145.8" y2="147.1"/>
</g>
<g font-family="'Liberation Serif', serif" font-size="3.6" fill="#666">
<text x="48.8" y="147.0" text-anchor="end">0</text>
<text x="48.8" y="128.6" text-anchor="end">500</text>
<text x="48.8" y="110.2" text-anchor="end">1000</text>
<text x="48.8" y="91.8" text-anchor="end">1500</text>
<text x="48.8" y="73.4" text-anchor="end">2000</text>
<text x="48.8" y="55.0" text-anchor="end">2500</text>
<text x="51.2" y="151" text-anchor="middle">2010</text>
<text x="79.5" y="151" text-anchor="middle">2013</text>
<text x="107.7" y="151" text-anchor="middle">2015</text>
<text x="135.9" y="151" text-anchor="middle">2018</text>
<text x="164.2" y="151" text-anchor="middle">2020</text>
</g>
<text font-family="'Liberation Serif', serif" font-size="10.8" fill="#222" x="128.1" y="254.9" text-anchor="middle">(<tspan font-weight="bold">a</tspan>)</text>
<g id="bars">
<rect x="325.85" y="173.30" width="3.50" height="0.40" fill="#5fcdb2"/>
<rect x="325.85" y="173.25" width="3.50" height="0.05" fill="#b6c1fb"/>
<rect x="329.85" y="173.23" width="3.50" height="0.47" fill="#5fcdb2"/>
<rect x="329.85" y="173.18" width="3.50" height="0.05" fill="#b6c1fb"/>
<rect x="333.85" y="173.16" width="3.50" height="0.54" fill="#5fcdb2"/>
<rect x="333.85" y="173.11" width="3.50" height="0.05" fill="#b6c1fb"/>
<rect x="337.85" y="173.09" width="3.50" height="0.61" fill="#5fcdb2"/>
<rect x="337.85" y="173.04" width="3.50" height="0.05" fill="#b6c1fb"/>
<rect x="341.85" y="173.02" width="3.50" height="0.68" fill="#5fcdb2"/>
<rect x="341.85" y="172.97" width="3.50" height="0.05" fill="#b6c1fb"/>
<rect x="345.85" y="172.95" width="3.50" height="0.75" fill="#5fcdb2"/>
<rect x="345.85" y="172.90" width="3.50" height="0.05" fill="#b6c1fb"/>
<rect x="349.85" y="172.87" width="3.50" height="0.83" fill="#5fcdb2"/>
<rect x="349.85" y="172.82" width="3.50" height="0.05" fill="#b6c1fb"/>
<rect x="353.85" y="173.62" width="3.50" height="0.07" fill="#a3dc86"/>
<rect x="353.85" y="172.79" width="3.50" height="0.83" fill="#5fcdb2"/>
<rect x="353.85" y="172.74" width="3.50" height="0.05" fill="#b6c1fb"/>
<rect x="357.85" y="173.55" width="3.50" height="0.15" fill="#a3dc86"/>
<rect x="357.85" y="172.71" width="3.50" height="0.84" fill="#5fcdb2"/>
<rect x="357.85" y="172.66" width="3.50" height="0.05" fill="#b6c1fb"/>
<rect x="361.85" y="173.47" width="3.50" height="0.22" fill="#a3dc86"/>
<rect x="361.85" y="172.63" width="3.50" height="0.85" fill="#5fcdb2"/>
<rect x="361.85" y="172.58" width="3.50" height="0.05" fill="#b6c1fb"/>
<rect x="365.85" y="173.40" width="3.50" height="0.30" fill="#a3dc86"/>
<rect x="365.85" y="172.55" width="3.50" height="0.85" fill="#5fcdb2"/>
<rect x="365.85" y="172.50" width="3.50" height="0.05" fill="#b6c1fb"/>
<rect x="369.85" y="173.30" width="3.50" height="0.40" fill="#a3dc86"/>
<rect x="369.85" y="172.38" width="3.50" height="0.92" fill="#5fcdb2"/>
<rect x="369.85" y="172.33" width="3.50" height="0.05" fill="#b6c1fb"/>
<rect x="373.85" y="173.20" width="3.50" height="0.50" fill="#a3dc86"/>
<rect x="373.85" y="172.37" width="3.50" height="0.83" fill="#5fcdb2"/>
<rect x="373.85" y="172.22" width="3.50" height="0.15" fill="#b6c1fb"/>
<rect x="373.85" y="172.17" width="3.50" height="0.05" fill="#b6c1fb"/>
<rect x="377.85" y="173.10" width="3.50" height="0.60" fill="#a3dc86"/>
<rect x="377.85" y="172.35" width="3.50" height="0.75" fill="#5fcdb2"/>
<rect x="377.85" y="172.05" width="3.50" height="0.30" fill="#b6c1fb"/>
<rect x="377.85" y="172.00" width="3.50" height="0.05" fill="#b6c1fb"/>
<rect x="381.85" y="172.99" width="3.50" height="0.71" fill="#a3dc86"/>
<rect x="381.85" y="172.95" width="3.50" height="0.04" fill="#e2dfc4"/>
<rect x="381.85" y="172.10" width="3.50" height="0.85" fill="#5fcdb2"/>
<rect x="381.85" y="171.70" width="3.50" height="0.40" fill="#b6c1fb"/>
<rect x="381.85" y="171.65" width="3.50" height="0.05" fill="#b6c1fb"/>
<rect x="385.85" y="172.89" width="3.50" height="0.81" fill="#a3dc86"/>
<rect x="385.85" y="172.80" width="3.50" height="0.09" fill="#e2dfc4"/>
<rect x="385.85" y="171.85" width="3.50" height="0.95" fill="#5fcdb2"/>
<rect x="385.85" y="171.35" width="3.50" height="0.50" fill="#b6c1fb"/>
<rect x="385.85" y="171.30" width="3.50" height="0.05" fill="#b6c1fb"/>
<rect x="389.85" y="172.17" width="3.50" height="1.53" fill="#a3dc86"/>
<rect x="389.85" y="172.16" width="3.50" height="0.01" fill="#bdbdbd"/>
<rect x="389.85" y="172.00" width="3.50" height="0.16" fill="#e2dfc4"/>
<rect x="389.85" y="170.10" width="3.50" height="1.90" fill="#5fcdb2"/>
<rect x="389.85" y="169.40" width="3.50" height="0.70" fill="#b6c1fb"/>
<rect x="389.85" y="169.20" width="3.50" height="0.20" fill="#b6c1fb"/>
<rect x="393.85" y="171.73" width="3.50" height="1.97" fill="#a3dc86"/>
<rect x="393.85" y="171.70" width="3.50" height="0.02" fill="#bdbdbd"/>
<rect x="393.85" y="171.50" width="3.50" height="0.20" fill="#e2dfc4"/>
<rect x="393.85" y="169.50" width="3.50" height="2.00" fill="#5fcdb2"/>
<rect x="393.85" y="168.70" width="3.50" height="0.80" fill="#b6c1fb"/>
<rect x="393.85" y="168.50" width="3.50" height="0.20" fill="#b6c1fb"/>
<rect x="397.85" y="171.19" width="3.50" height="2.51" fill="#a3dc86"/>
<rect x="397.85" y="171.16" width="3.50" height="0.03" fill="#bdbdbd"/>
<rect x="397.85" y="170.90" width="3.50" height="0.26" fill="#e2dfc4"/>
<rect x="397.85" y="168.90" width="3.50" height="2.00" fill="#5fcdb2"/>
<rect x="397.85" y="167.90" width="3.50" height="1.00" fill="#b6c1fb"/>
<rect x="397.85" y="167.70" width="3.50" height="0.20" fill="#b6c1fb"/>
<rect x="401.85" y="171.01" width="3.50" height="2.69" fill="#a3dc86"/>
<rect x="401.85" y="170.97" width="3.50" height="0.04" fill="#bdbdbd"/>
<rect x="401.85" y="170.70" width="3.50" height="0.27" fill="#e2dfc4"/>
<rect x="401.85" y="168.70" width="3.50" height="2.00" fill="#5fcdb2"/>
<rect x="401.85" y="167.60" width="3.50" height="1.10" fill="#b6c1fb"/>
<rect x="401.85" y="167.40" width="3.50" height="0.20" fill="#b6c1fb"/>
<rect x="405.85" y="170.74" width="3.50" height="2.96" fill="#a3dc86"/>
<rect x="405.85" y="170.70" width="3.50" height="0.05" fill="#bdbdbd"/>
<rect x="405.85" y="170.40" width="3.50" height="0.30" fill="#e2dfc4"/>
<rect x="405.85" y="168.20" width="3.50" height="2.20" fill="#5fcdb2"/>
<rect x="405.85" y="167.10" width="3.50" height="1.10" fill="#b6c1fb"/>
<rect x="405.85" y="166.90" width="3.50" height="0.20" fill="#b6c1fb"/>
<rect x="409.85" y="170.58" width="3.50" height="3.12" fill="#a3dc86"/>
<rect x="409.85" y="170.53" width="3.50" height="0.06" fill="#bdbdbd"/>
<rect x="409.85" y="170.20" width="3.50" height="0.33" fill="#e2dfc4"/>
<rect x="409.85" y="167.90" width="3.50" height="2.30" fill="#5fcdb2"/>
<rect x="409.85" y="167.70" width="3.50" height="0.20" fill="#ff9acb"/>
<rect x="409.85" y="166.70" width="3.50" height="1.00" fill="#b6c1fb"/>
<rect x="409.85" y="166.50" width="3.50" height="0.20" fill="#b6c1fb"/>
<rect x="413.85" y="170.33" width="3.50" height="3.37" fill="#a3dc86"/>
<rect x="413.85" y="170.26" width="3.50" height="0.07" fill="#bdbdbd"/>
<rect x="413.85" y="169.90" width="3.50" height="0.36" fill="#e2dfc4"/>
<rect x="413.85" y="167.50" width="3.50" height="2.40" fill="#5fcdb2"/>
<rect x="413.85" y="167.20" width="3.50" height="0.30" fill="#ff9acb"/>
<rect x="413.85" y="166.10" width="3.50" height="1.10" fill="#b6c1fb"/>
<rect x="413.85" y="165.90" width="3.50" height="0.20" fill="#b6c1fb"/>
<rect x="417.85" y="170.17" width="3.50" height="3.53" fill="#a3dc86"/>
<rect x="417.85" y="170.09" width="3.50" height="0.07" fill="#bdbdbd"/>
<rect x="417.85" y="169.70" width="3.50" height="0.39" fill="#e2dfc4"/>
<rect x="417.85" y="166.90" width="3.50" height="2.80" fill="#5fcdb2"/>
<rect x="417.85" y="166.50" width="3.50" height="0.40" fill="#ff9acb"/>
<rect x="417.85" y="165.10" width="3.50" height="1.40" fill="#b6c1fb"/>
<rect x="417.85" y="164.90" width="3.50" height="0.20" fill="#b6c1fb"/>
<rect x="421.85" y="170.00" width="3.50" height="3.70" fill="#a3dc86"/>
<rect x="421.85" y="169.92" width="3.50" height="0.08" fill="#bdbdbd"/>
<rect x="421.85" y="169.50" width="3.50" height="0.42" fill="#e2dfc4"/>
<rect x="421.85" y="165.90" width="3.50" height="3.60" fill="#5fcdb2"/>
<rect x="421.85" y="165.40" width="3.50" height="0.50" fill="#ff9acb"/>
<rect x="421.85" y="163.70" width="3.50" height="1.70" fill="#b6c1fb"/>
<rect x="421.85" y="163.50" width="3.50" height="0.20" fill="#b6c1fb"/>
<rect x="425.85" y="169.66" width="3.50" height="4.04" fill="#a3dc86"/>
<rect x="425.85" y="169.57" width="3.50" height="0.09" fill="#bdbdbd"/>
<rect x="425.85" y="169.10" width="3.50" height="0.47" fill="#e2dfc4"/>
<rect x="425.85" y="165.30" width="3.50" height="3.80" fill="#5fcdb2"/>
<rect x="425.85" y="164.70" width="3.50" height="0.60" fill="#ff9acb"/>
<rect x="425.85" y="162.60" width="3.50" height="2.10" fill="#b6c1fb"/>
<rect x="425.85" y="162.40" width="3.50" height="0.20" fill="#f6ba86"/>
<rect x="429.85" y="169.71" width="3.50" height="3.99" fill="#a3dc86"/>
<rect x="429.85" y="169.61" width="3.50" height="0.10" fill="#bdbdbd"/>
<rect x="429.85" y="169.10" width="3.50" height="0.51" fill="#e2dfc4"/>
<rect x="429.85" y="164.70" width="3.50" height="4.40" fill="#5fcdb2"/>
<rect x="429.85" y="164.20" width="3.50" height="0.50" fill="#ffa47e"/>
<rect x="429.85" y="163.50" width="3.50" height="0.70" fill="#ff9acb"/>
<rect x="429.85" y="161.40" width="3.50" height="2.10" fill="#b6c1fb"/>
<rect x="429.85" y="161.20" width="3.50" height="0.20" fill="#f6ba86"/>
<rect x="433.85" y="169.67" width="3.50" height="4.03" fill="#a3dc86"/>
<rect x="433.85" y="169.55" width="3.50" height="0.11" fill="#bdbdbd"/>
<rect x="433.85" y="169.00" width="3.50" height="0.55" fill="#e2dfc4"/>
<rect x="433.85" y="161.30" width="3.50" height="7.70" fill="#5fcdb2"/>
<rect x="433.85" y="159.00" width="3.50" height="2.30" fill="#ffa47e"/>
<rect x="433.85" y="157.80" width="3.50" height="1.20" fill="#ff9acb"/>
<rect x="433.85" y="155.70" width="3.50" height="2.10" fill="#b6c1fb"/>
<rect x="433.85" y="155.50" width="3.50" height="0.20" fill="#f6ba86"/>
<rect x="437.85" y="169.71" width="3.50" height="3.99" fill="#a3dc86"/>
<rect x="437.85" y="169.59" width="3.50" height="0.12" fill="#bdbdbd"/>
<rect x="437.85" y="169.00" width="3.50" height="0.59" fill="#e2dfc4"/>
<rect x="437.85" y="161.30" width="3.50" height="7.70" fill="#5fcdb2"/>
<rect x="437.85" y="158.70" width="3.50" height="2.60" fill="#ffa47e"/>
<rect x="437.85" y="157.50" width="3.50" height="1.20" fill="#ff9acb"/>
<rect x="437.85" y="155.20" width="3.50" height="2.30" fill="#b6c1fb"/>
<rect x="437.85" y="154.90" width="3.50" height="0.30" fill="#f6ba86"/>
<rect x="441.85" y="169.87" width="3.50" height="3.83" fill="#a3dc86"/>
<rect x="441.85" y="169.73" width="3.50" height="0.13" fill="#bdbdbd"/>
<rect x="441.85" y="169.10" width="3.50" height="0.63" fill="#e2dfc4"/>
<rect x="441.85" y="162.40" width="3.50" height="6.70" fill="#5fcdb2"/>
<rect x="441.85" y="156.10" width="3.50" height="6.30" fill="#ffa47e"/>
<rect x="441.85" y="155.10" width="3.50" height="1.00" fill="#ff9acb"/>
<rect x="441.85" y="153.50" width="3.50" height="1.60" fill="#b6c1fb"/>
<rect x="441.85" y="153.20" width="3.50" height="0.30" fill="#f6ba86"/>
<rect x="445.85" y="169.94" width="3.50" height="3.76" fill="#a3dc86"/>
<rect x="445.85" y="169.79" width="3.50" height="0.15" fill="#bdbdbd"/>
<rect x="445.85" y="169.10" width="3.50" height="0.69" fill="#e2dfc4"/>
<rect x="445.85" y="162.40" width="3.50" height="6.70" fill="#5fcdb2"/>
<rect x="445.85" y="154.90" width="3.50" height="7.50" fill="#ffa47e"/>
<rect x="445.85" y="153.90" width="3.50" height="1.00" fill="#ff9acb"/>
<rect x="445.85" y="152.90" width="3.50" height="1.00" fill="#b6c1fb"/>
<rect x="445.85" y="152.60" width="3.50" height="0.30" fill="#f6ba86"/>
<rect x="449.85" y="170.42" width="3.50" height="3.28" fill="#a3dc86"/>
<rect x="449.85" y="170.24" width="3.50" height="0.18" fill="#bdbdbd"/>
<rect x="449.85" y="169.50" width="3.50" height="0.74" fill="#e2dfc4"/>
<rect x="449.85" y="160.10" width="3.50" height="9.40" fill="#5fcdb2"/>
<rect x="449.85" y="152.60" width="3.50" height="7.50" fill="#ffa47e"/>
<rect x="449.85" y="151.50" width="3.50" height="1.10" fill="#ff9acb"/>
<rect x="449.85" y="149.70" width="3.50" height="1.80" fill="#b6c1fb"/>
<rect x="449.85" y="149.30" width="3.50" height="0.40" fill="#f6ba86"/>
<rect x="453.85" y="173.52" width="3.50" height="0.18" fill="#9fb4dd"/>
<rect x="453.85" y="171.24" width="3.50" height="2.29" fill="#a3dc86"/>
<rect x="453.85" y="171.05" width="3.50" height="0.18" fill="#bdbdbd"/>
<rect x="453.85" y="170.40" width="3.50" height="0.65" fill="#e2dfc4"/>
<rect x="453.85" y="161.80" width="3.50" height="8.60" fill="#5fcdb2"/>
<rect x="453.85" y="152.60" width="3.50" height="9.20" fill="#ffa47e"/>
<rect x="453.85" y="151.50" width="3.50" height="1.10" fill="#ff9acb"/>
<rect x="453.85" y="149.70" width="3.50" height="1.80" fill="#b6c1fb"/>
<rect x="453.85" y="149.30" width="3.50" height="0.40" fill="#f6ba86"/>
<rect x="457.85" y="173.40" width="3.50" height="0.30" fill="#9fb4dd"/>
<rect x="457.85" y="170.88" width="3.50" height="2.52" fill="#a3dc86"/>
<rect x="457.85" y="170.78" width="3.50" height="0.10" fill="#ffe15c"/>
<rect x="457.85" y="170.68" width="3.50" height="0.10" fill="#f3c9a0"/>
<rect x="457.85" y="170.45" width="3.50" height="0.24" fill="#bdbdbd"/>
<rect x="457.85" y="169.70" width="3.50" height="0.75" fill="#e2dfc4"/>
<rect x="457.85" y="157.60" width="3.50" height="12.10" fill="#5fcdb2"/>
<rect x="457.85" y="146.60" width="3.50" height="11.00" fill="#ffa47e"/>
<rect x="457.85" y="145.40" width="3.50" height="1.20" fill="#ff9acb"/>
<rect x="457.85" y="142.80" width="3.50" height="2.60" fill="#b6c1fb"/>
<rect x="457.85" y="142.63" width="3.50" height="0.17" fill="#6a7452"/>
<rect x="457.85" y="142.20" width="3.50" height="0.43" fill="#f6ba86"/>
<rect x="461.85" y="173.36" width="3.50" height="0.34" fill="#9fb4dd"/>
<rect x="461.85" y="170.91" width="3.50" height="2.46" fill="#a3dc86"/>
<rect x="461.85" y="170.71" width="3.50" height="0.19" fill="#ffe15c"/>
<rect x="461.85" y="170.52" width="3.50" height="0.19" fill="#f3c9a0"/>
<rect x="461.85" y="170.26" width="3.50" height="0.26" fill="#bdbdbd"/>
<rect x="461.85" y="169.50" width="3.50" height="0.76" fill="#e2dfc4"/>
<rect x="461.85" y="158.00" width="3.50" height="11.50" fill="#5fcdb2"/>
<rect x="461.85" y="145.80" width="3.50" height="12.20" fill="#ffa47e"/>
<rect x="461.85" y="144.50" width="3.50" height="1.30" fill="#ff9acb"/>
<rect x="461.85" y="142.20" width="3.50" height="2.30" fill="#b6c1fb"/>
<rect x="461.85" y="141.95" width="3.50" height="0.25" fill="#6a7452"/>
<rect x="461.85" y="141.88" width="3.50" height="0.07" fill="#575753"/>
<rect x="461.85" y="141.50" width="3.50" height="0.38" fill="#f6ba86"/>
<rect x="465.85" y="173.33" width="3.50" height="0.37" fill="#9fb4dd"/>
<rect x="465.85" y="171.05" width="3.50" height="2.28" fill="#a3dc86"/>
<rect x="465.85" y="170.78" width="3.50" height="0.27" fill="#ffe15c"/>
<rect x="465.85" y="170.50" width="3.50" height="0.27" fill="#f3c9a0"/>
<rect x="465.85" y="170.23" width="3.50" height="0.27" fill="#bdbdbd"/>
<rect x="465.85" y="169.50" width="3.50" height="0.73" fill="#e2dfc4"/>
<rect x="465.85" y="158.00" width="3.50" height="11.50" fill="#5fcdb2"/>
<rect x="465.85" y="141.10" width="3.50" height="16.90" fill="#ffa47e"/>
<rect x="465.85" y="139.90" width="3.50" height="1.20" fill="#ff9acb"/>
<rect x="465.85" y="138.30" width="3.50" height="1.60" fill="#b6c1fb"/>
<rect x="465.85" y="137.71" width="3.50" height="0.59" fill="#6a7452"/>
<rect x="465.85" y="137.45" width="3.50" height="0.26" fill="#575753"/>
<rect x="465.85" y="137.00" width="3.50" height="0.45" fill="#f6ba86"/>
<rect x="469.85" y="173.27" width="3.50" height="0.43" fill="#9fb4dd"/>
<rect x="469.85" y="171.14" width="3.50" height="2.13" fill="#a3dc86"/>
<rect x="469.85" y="170.76" width="3.50" height="0.38" fill="#ffe15c"/>
<rect x="469.85" y="170.29" width="3.50" height="0.47" fill="#f3c9a0"/>
<rect x="469.85" y="169.95" width="3.50" height="0.34" fill="#bdbdbd"/>
<rect x="469.85" y="169.10" width="3.50" height="0.85" fill="#e2dfc4"/>
<rect x="469.85" y="155.70" width="3.50" height="13.40" fill="#5fcdb2"/>
<rect x="469.85" y="137.50" width="3.50" height="18.20" fill="#ffa47e"/>
<rect x="469.85" y="136.20" width="3.50" height="1.30" fill="#ff9acb"/>
<rect x="469.85" y="134.40" width="3.50" height="1.80" fill="#b6c1fb"/>
<rect x="469.85" y="133.60" width="3.50" height="0.80" fill="#6a7452"/>
<rect x="469.85" y="133.13" width="3.50" height="0.47" fill="#575753"/>
<rect x="469.85" y="132.60" width="3.50" height="0.53" fill="#f6ba86"/>
<rect x="473.85" y="172.96" width="3.50" height="0.74" fill="#9fb4dd"/>
<rect x="473.85" y="170.66" width="3.50" height="2.30" fill="#a3dc86"/>
<rect x="473.85" y="170.10" width="3.50" height="0.55" fill="#ffe15c"/>
<rect x="473.85" y="169.37" width="3.50" height="0.74" fill="#f3c9a0"/>
<rect x="473.85" y="168.91" width="3.50" height="0.46" fill="#bdbdbd"/>
<rect x="473.85" y="167.80" width="3.50" height="1.11" fill="#e2dfc4"/>
<rect x="473.85" y="151.30" width="3.50" height="16.50" fill="#5fcdb2"/>
<rect x="473.85" y="131.70" width="3.50" height="19.60" fill="#ffa47e"/>
<rect x="473.85" y="130.30" width="3.50" height="1.40" fill="#ff9acb"/>
<rect x="473.85" y="127.90" width="3.50" height="2.40" fill="#b6c1fb"/>
<rect x="473.85" y="126.90" width="3.50" height="1.00" fill="#6a7452"/>
<rect x="473.85" y="126.16" width="3.50" height="0.74" fill="#575753"/>
<rect x="473.85" y="125.60" width="3.50" height="0.56" fill="#f6ba86"/>
<rect x="477.85" y="172.68" width="3.50" height="1.02" fill="#9fb4dd"/>
<rect x="477.85" y="170.36" width="3.50" height="2.32" fill="#a3dc86"/>
<rect x="477.85" y="169.43" width="3.50" height="0.93" fill="#ffe15c"/>
<rect x="477.85" y="168.31" width="3.50" height="1.11" fill="#f3c9a0"/>
<rect x="477.85" y="167.71" width="3.50" height="0.60" fill="#bdbdbd"/>
<rect x="477.85" y="166.50" width="3.50" height="1.21" fill="#e2dfc4"/>
<rect x="477.85" y="149.40" width="3.50" height="17.10" fill="#5fcdb2"/>
<rect x="477.85" y="125.50" width="3.50" height="23.90" fill="#ffa47e"/>
<rect x="477.85" y="123.30" width="3.50" height="2.20" fill="#ff9acb"/>
<rect x="477.85" y="123.20" width="3.50" height="0.10" fill="#dddcd2"/>
<rect x="477.85" y="120.40" width="3.50" height="2.80" fill="#b6c1fb"/>
<rect x="477.85" y="119.07" width="3.50" height="1.33" fill="#6a7452"/>
<rect x="477.85" y="117.89" width="3.50" height="1.18" fill="#575753"/>
<rect x="477.85" y="117.30" width="3.50" height="0.59" fill="#f6ba86"/>
<rect x="481.85" y="172.58" width="3.50" height="1.12" fill="#9fb4dd"/>
<rect x="481.85" y="170.20" width="3.50" height="2.38" fill="#a3dc86"/>
<rect x="481.85" y="169.24" width="3.50" height="0.96" fill="#ffe15c"/>
<rect x="481.85" y="167.92" width="3.50" height="1.32" fill="#f3c9a0"/>
<rect x="481.85" y="167.11" width="3.50" height="0.81" fill="#bdbdbd"/>
<rect x="481.85" y="167.01" width="3.50" height="0.10" fill="#fde2cf"/>
<rect x="481.85" y="166.50" width="3.50" height="0.51" fill="#e2dfc4"/>
<rect x="481.85" y="146.80" width="3.50" height="19.70" fill="#5fcdb2"/>
<rect x="481.85" y="118.00" width="3.50" height="28.80" fill="#ffa47e"/>
<rect x="481.85" y="115.50" width="3.50" height="2.50" fill="#ff9acb"/>
<rect x="481.85" y="115.20" width="3.50" height="0.30" fill="#dddcd2"/>
<rect x="481.85" y="112.30" width="3.50" height="2.90" fill="#b6c1fb"/>
<rect x="481.85" y="110.79" width="3.50" height="1.51" fill="#6a7452"/>
<rect x="481.85" y="109.42" width="3.50" height="1.37" fill="#575753"/>
<rect x="481.85" y="108.80" width="3.50" height="0.62" fill="#f6ba86"/>
<rect x="485.85" y="172.56" width="3.50" height="1.14" fill="#9fb4dd"/>
<rect x="485.85" y="170.27" width="3.50" height="2.29" fill="#a3dc86"/>
<rect x="485.85" y="169.33" width="3.50" height="0.94" fill="#ffe15c"/>
<rect x="485.85" y="168.50" width="3.50" height="0.83" fill="#f3c9a0"/>
<rect x="485.85" y="167.66" width="3.50" height="0.83" fill="#bdbdbd"/>
<rect x="485.85" y="167.46" width="3.50" height="0.21" fill="#fde2cf"/>
<rect x="485.85" y="166.90" width="3.50" height="0.56" fill="#e2dfc4"/>
<rect x="485.85" y="144.80" width="3.50" height="22.10" fill="#5fcdb2"/>
<rect x="485.85" y="115.20" width="3.50" height="29.60" fill="#ffa47e"/>
<rect x="485.85" y="112.30" width="3.50" height="2.90" fill="#ff9acb"/>
<rect x="485.85" y="111.70" width="3.50" height="0.60" fill="#dddcd2"/>
<rect x="485.85" y="109.40" width="3.50" height="2.30" fill="#b6c1fb"/>
<rect x="485.85" y="107.66" width="3.50" height="1.74" fill="#6a7452"/>
<rect x="485.85" y="106.06" width="3.50" height="1.60" fill="#575753"/>
<rect x="485.85" y="105.40" width="3.50" height="0.66" fill="#f6ba86"/>
<rect x="489.85" y="172.35" width="3.50" height="1.35" fill="#9fb4dd"/>
<rect x="489.85" y="170.42" width="3.50" height="1.93" fill="#a3dc86"/>
<rect x="489.85" y="169.55" width="3.50" height="0.87" fill="#ffe15c"/>
<rect x="489.85" y="168.40" width="3.50" height="1.16" fill="#f3c9a0"/>
<rect x="489.85" y="167.82" width="3.50" height="0.58" fill="#bdbdbd"/>
<rect x="489.85" y="167.05" width="3.50" height="0.77" fill="#fde2cf"/>
<rect x="489.85" y="166.50" width="3.50" height="0.55" fill="#e2dfc4"/>
<rect x="489.85" y="140.80" width="3.50" height="25.70" fill="#5fcdb2"/>
<rect x="489.85" y="114.00" width="3.50" height="26.80" fill="#ffa47e"/>
<rect x="489.85" y="111.70" width="3.50" height="2.30" fill="#ff9acb"/>
<rect x="489.85" y="106.50" width="3.50" height="5.20" fill="#dddcd2"/>
<rect x="489.85" y="103.70" width="3.50" height="2.80" fill="#b6c1fb"/>
<rect x="489.85" y="101.64" width="3.50" height="2.06" fill="#6a7452"/>
<rect x="489.85" y="99.72" width="3.50" height="1.93" fill="#575753"/>
<rect x="489.85" y="99.00" width="3.50" height="0.72" fill="#f6ba86"/>
<rect x="493.85" y="172.12" width="3.50" height="1.58" fill="#9fb4dd"/>
<rect x="493.85" y="170.45" width="3.50" height="1.67" fill="#a3dc86"/>
<rect x="493.85" y="169.61" width="3.50" height="0.84" fill="#ffe15c"/>
<rect x="493.85" y="168.78" width="3.50" height="0.84" fill="#f3c9a0"/>
<rect x="493.85" y="167.85" width="3.50" height="0.93" fill="#bdbdbd"/>
<rect x="493.85" y="166.46" width="3.50" height="1.39" fill="#fde2cf"/>
<rect x="493.85" y="165.90" width="3.50" height="0.56" fill="#e2dfc4"/>
<rect x="493.85" y="134.80" width="3.50" height="31.10" fill="#5fcdb2"/>
<rect x="493.85" y="107.70" width="3.50" height="27.10" fill="#ffa47e"/>
<rect x="493.85" y="104.80" width="3.50" height="2.90" fill="#ff9acb"/>
<rect x="493.85" y="98.50" width="3.50" height="6.30" fill="#dddcd2"/>
<rect x="493.85" y="96.00" width="3.50" height="2.50" fill="#b6c1fb"/>
<rect x="493.85" y="93.18" width="3.50" height="2.82" fill="#6a7452"/>
<rect x="493.85" y="90.50" width="3.50" height="2.69" fill="#575753"/>
<rect x="493.85" y="89.60" width="3.50" height="0.90" fill="#f6ba86"/>
<rect x="497.85" y="171.37" width="3.50" height="2.33" fill="#9fb4dd"/>
<rect x="497.85" y="169.72" width="3.50" height="1.65" fill="#a3dc86"/>
<rect x="497.85" y="168.56" width="3.50" height="1.16" fill="#ffe15c"/>
<rect x="497.85" y="167.39" width="3.50" height="1.16" fill="#f3c9a0"/>
<rect x="497.85" y="166.52" width="3.50" height="0.87" fill="#bdbdbd"/>
<rect x="497.85" y="164.29" width="3.50" height="2.23" fill="#fde2cf"/>
<rect x="497.85" y="164.00" width="3.50" height="0.29" fill="#e2dfc4"/>
<rect x="497.85" y="126.90" width="3.50" height="37.10" fill="#5fcdb2"/>
<rect x="497.85" y="99.20" width="3.50" height="27.70" fill="#ffa47e"/>
<rect x="497.85" y="96.00" width="3.50" height="3.20" fill="#ff9acb"/>
<rect x="497.85" y="83.90" width="3.50" height="12.10" fill="#dddcd2"/>
<rect x="497.85" y="80.70" width="3.50" height="3.20" fill="#b6c1fb"/>
<rect x="497.85" y="77.73" width="3.50" height="2.97" fill="#6a7452"/>
<rect x="497.85" y="74.85" width="3.50" height="2.88" fill="#575753"/>
<rect x="497.85" y="74.00" width="3.50" height="0.85" fill="#f6ba86"/>
<rect x="501.85" y="170.85" width="3.50" height="2.85" fill="#9fb4dd"/>
<rect x="501.85" y="169.37" width="3.50" height="1.48" fill="#a3dc86"/>
<rect x="501.85" y="168.39" width="3.50" height="0.98" fill="#ffe15c"/>
<rect x="501.85" y="167.41" width="3.50" height="0.98" fill="#f3c9a0"/>
<rect x="501.85" y="165.83" width="3.50" height="1.57" fill="#bdbdbd"/>
<rect x="501.85" y="162.19" width="3.50" height="3.64" fill="#fde2cf"/>
<rect x="501.85" y="161.80" width="3.50" height="0.39" fill="#e2dfc4"/>
<rect x="501.85" y="119.00" width="3.50" height="42.80" fill="#5fcdb2"/>
<rect x="501.85" y="86.20" width="3.50" height="32.80" fill="#ffa47e"/>
<rect x="501.85" y="82.90" width="3.50" height="3.30" fill="#ff9acb"/>
<rect x="501.85" y="58.00" width="3.50" height="24.90" fill="#dddcd2"/>
<rect x="501.85" y="56.00" width="3.50" height="2.00" fill="#b6c1fb"/>
<rect x="501.85" y="52.43" width="3.50" height="3.57" fill="#6a7452"/>
<rect x="501.85" y="48.91" width="3.50" height="3.52" fill="#575753"/>
<rect x="501.85" y="48.00" width="3.50" height="0.91" fill="#f6ba86"/>
<rect x="505.85" y="170.42" width="3.50" height="3.28" fill="#9fb4dd"/>
<rect x="505.85" y="169.13" width="3.50" height="1.29" fill="#a3dc86"/>
<rect x="505.85" y="167.84" width="3.50" height="1.29" fill="#ffe15c"/>
<rect x="505.85" y="166.95" width="3.50" height="0.89" fill="#f3c9a0"/>
<rect x="505.85" y="165.36" width="3.50" height="1.59" fill="#bdbdbd"/>
<rect x="505.85" y="159.70" width="3.50" height="5.66" fill="#fde2cf"/>
<rect x="505.85" y="159.50" width="3.50" height="0.20" fill="#e2dfc4"/>
<rect x="505.85" y="113.70" width="3.50" height="45.80" fill="#5fcdb2"/>
<rect x="505.85" y="82.00" width="3.50" height="31.70" fill="#ffa47e"/>
<rect x="505.85" y="79.50" width="3.50" height="2.50" fill="#ff9acb"/>
<rect x="505.85" y="43.00" width="3.50" height="36.50" fill="#dddcd2"/>
<rect x="505.85" y="41.00" width="3.50" height="2.00" fill="#b6c1fb"/>
<rect x="505.85" y="37.58" width="3.50" height="3.42" fill="#6a7452"/>
<rect x="505.85" y="34.16" width="3.50" height="3.42" fill="#575753"/>
<rect x="505.85" y="33.40" width="3.50" height="0.76" fill="#f6ba86"/>
</g>
<polyline fill="none" stroke="#ff4a3a" stroke-width="0.6" points="327.6,173.6 331.6,173.6 335.6,173.6 339.6,173.6 343.6,173.6 347.6,173.6 351.6,173.6 355.6,173.6 359.6,173.6 363.6,173.6 367.6,173.6 371.6,173.6 375.6,173.6 379.6,173.5 383.6,173.5 387.6,173.5 391.6,173.4 395.6,173.3 399.6,173.1 403.6,172.9 407.6,172.7 411.6,172.5 415.6,172.2 419.6,172.0 423.6,171.2 427.6,170.5 431.6,169.3 435.6,167.5 439.6,166.0 443.6,164.4 447.6,162.2 451.6,159.8 455.6,157.3 459.6,154.0 463.6,150.2 467.6,146.2 471.6,141.0 475.6,134.2 479.6,126.3 483.6,117.5 487.6,108.0 491.6,99.8 495.6,92.0 499.6,76.2 503.6,50.0 507.6,34.0"/>
<g><rect x="326.85" y="172.85" width="1.5" height="1.5" fill="#b81818"/><rect x="330.85" y="172.85" width="1.5" height="1.5" fill="#b81818"/><rect x="334.85" y="172.85" width="1.5" height="1.5" fill="#b81818"/><rect x="338.85" y="172.85" width="1.5" height="1.5" fill="#b81818"/><rect x="342.85" y="172.85" width="1.5" height="1.5" fill="#b81818"/><rect x="346.85" y="172.85" width="1.5" height="1.5" fill="#b81818"/><rect x="350.85" y="172.85" width="1.5" height="1.5" fill="#b81818"/><rect x="354.85" y="172.85" width="1.5" height="1.5" fill="#b81818"/><rect x="358.85" y="172.85" width="1.5" height="1.5" fill="#b81818"/><rect x="362.85" y="172.85" width="1.5" height="1.5" fill="#b81818"/><rect x="366.85" y="172.85" width="1.5" height="1.5" fill="#b81818"/><rect x="370.85" y="172.83" width="1.5" height="1.5" fill="#b81818"/><rect x="374.85" y="172.81" width="1.5" height="1.5" fill="#b81818"/><rect x="378.85" y="172.79" width="1.5" height="1.5" fill="#b81818"/><rect x="382.85" y="172.77" width="1.5" height="1.5" fill="#b81818"/><rect x="386.85" y="172.75" width="1.5" height="1.5" fill="#b81818"/><rect x="390.85" y="172.65" width="1.5" height="1.5" fill="#b81818"/><rect x="394.85" y="172.55" width="1.5" height="1.5" fill="#b81818"/><rect x="398.85" y="172.35" width="1.5" height="1.5" fill="#b81818"/><rect x="402.85" y="172.15" width="1.5" height="1.5" fill="#b81818"/><rect x="406.85" y="171.95" width="1.5" height="1.5" fill="#f01010"/><rect x="410.85" y="171.72" width="1.5" height="1.5" fill="#f01010"/><rect x="414.85" y="171.48" width="1.5" height="1.5" fill="#f01010"/><rect x="418.85" y="171.25" width="1.5" height="1.5" fill="#f01010"/><rect x="422.85" y="170.50" width="1.5" height="1.5" fill="#f01010"/><rect x="426.85" y="169.75" width="1.5" height="1.5" fill="#f01010"/><rect x="430.85" y="168.55" width="1.5" height="1.5" fill="#f01010"/><rect x="434.85" y="166.75" width="1.5" height="1.5" fill="#f01010"/><rect x="438.85" y="165.25" width="1.5" height="1.5" fill="#f01010"/><rect x="442.85" y="163.65" width="1.5" height="1.5" fill="#f01010"/><rect x="446.85" y="161.45" width="1.5" height="1.5" fill="#f01010"/><rect x="450.85" y="159.05" width="1.5" height="1.5" fill="#f01010"/><rect x="454.85" y="156.55" width="1.5" height="1.5" fill="#f01010"/><rect x="458.85" y="153.25" width="1.5" height="1.5" fill="#f01010"/><rect x="462.85" y="149.45" width="1.5" height="1.5" fill="#f01010"/><rect x="466.85" y="145.45" width="1.5" height="1.5" fill="#f01010"/><rect x="470.85" y="140.25" width="1.5" height="1.5" fill="#f01010"/><rect x="474.85" y="133.45" width="1.5" height="1.5" fill="#f01010"/><rect x="478.85" y="125.55" width="1.5" height="1.5" fill="#f01010"/><rect x="482.85" y="116.75" width="1.5" height="1.5" fill="#f01010"/><rect x="486.85" y="107.25" width="1.5" height="1.5" fill="#f01010"/><rect x="490.85" y="99.05" width="1.5" height="1.5" fill="#f01010"/><rect x="494.85" y="91.25" width="1.5" height="1.5" fill="#f01010"/><rect x="498.85" y="75.45" width="1.5" height="1.5" fill="#f01010"/><rect x="502.85" y="49.25" width="1.5" height="1.5" fill="#f01010"/><rect x="506.85" y="33.25" width="1.5" height="1.5" fill="#f01010"/></g>
<g font-family="'Liberation Serif', serif" font-size="2.9" fill="#2a2a33" text-anchor="middle">
<text x="327.6" y="171.8">3</text>
<text x="331.6" y="171.8">3</text>
<text x="335.6" y="171.7">5</text>
<text x="339.6" y="171.6">12</text>
<text x="343.6" y="171.6">17</text>
<text x="347.6" y="171.5">27</text>
<text x="351.6" y="171.4">31</text>
<text x="355.6" y="171.3">26</text>
<text x="359.6" y="171.3">28</text>
<text x="363.6" y="167.2">226</text>
<text x="367.6" y="171.1">80</text>
<text x="371.6" y="162.5">779</text>
<text x="375.6" y="166.8">409</text>
<text x="379.6" y="170.6">126</text>
<text x="383.6" y="166.2">774</text>
<text x="387.6" y="169.9">301</text>
<text x="391.6" y="165.9">432</text>
<text x="395.6" y="167.1">576</text>
<text x="399.6" y="166.3">863</text>
<text x="403.6" y="166.0">1151</text>
<text x="407.6" y="165.5">1439</text>
<text x="411.6" y="165.1">1775</text>
<text x="415.6" y="164.5">2110</text>
<text x="419.6" y="163.5">2446</text>
<text x="423.6" y="162.1">3525</text>
<text x="427.6" y="161.0">4604</text>
<text x="431.6" y="159.8">6331</text>
<text x="435.6" y="154.1">8921</text>
<text x="439.6" y="145.1">11,079</text>
<text x="443.6" y="151.8">13,381</text>
<text x="447.6" y="151.2">16,547</text>
<text x="451.6" y="143.5">20,000</text>
<text x="455.6" y="147.9">23,597</text>
<text x="459.6" y="136.4">28,345</text>
<text x="463.6" y="140.1">33,813</text>
<text x="467.6" y="131.2">39,568</text>
<text x="468.4" y="133.5">47,050</text>
<text x="472.4" y="126.5">56,835</text>
<text x="476.4" y="118.2">68,201</text>
<text x="480.4" y="109.7">80,863</text>
<text x="484.4" y="106.3">94,532</text>
<text x="488.4" y="99.9">106,331</text>
<text x="492.4" y="90.5">117,554</text>
<text x="496.4" y="74.9">140,288</text>
<text x="500.4" y="48.9">177,986</text>
<text x="507.6" y="32.0">201,144</text>
</g>
<g stroke="#777" stroke-width="0.35"><line x1="363.6" x2="363.6" y1="171.2" y2="167.6"/><line x1="371.6" x2="371.6" y1="170.9" y2="162.9"/><line x1="375.6" x2="375.6" y1="170.8" y2="167.2"/><line x1="383.6" x2="383.6" y1="170.2" y2="166.6"/><line x1="391.6" x2="391.6" y1="167.8" y2="166.3"/><line x1="439.6" x2="439.6" y1="153.5" y2="145.5"/><line x1="451.6" x2="451.6" y1="147.9" y2="143.9"/><line x1="459.6" x2="459.6" y1="140.8" y2="136.8"/><line x1="467.6" x2="467.6" y1="135.6" y2="131.6"/><line x1="472.6" x2="472.6" y1="133.6" y2="129.6"/><line x1="484.6" x2="484.6" y1="109.8" y2="105.8"/><line x1="496.6" x2="496.6" y1="90.6" y2="86.6"/></g>
<path d="M320.0 17.5 V173.7 H515.7 V17.5" fill="none" stroke="#222" stroke-width="1"/>
<g stroke="#222" stroke-width="0.8">
<line x1="318.2" x2="320.0" y1="173.7" y2="173.7"/>
<line x1="318.2" x2="320.0" y1="151.4" y2="151.4"/>
<line x1="318.2" x2="320.0" y1="129.1" y2="129.1"/>
<line x1="318.2" x2="320.0" y1="106.8" y2="106.8"/>
<line x1="318.2" x2="320.0" y1="84.5" y2="84.5"/>
<line x1="318.2" x2="320.0" y1="62.2" y2="62.2"/>
<line x1="318.2" x2="320.0" y1="39.9" y2="39.9"/>
<line x1="318.2" x2="320.0" y1="17.6" y2="17.6"/>
<line x1="319.0" x2="320.0" y1="162.5" y2="162.5"/>
<line x1="319.0" x2="320.0" y1="140.2" y2="140.2"/>
<line x1="319.0" x2="320.0" y1="117.9" y2="117.9"/>
<line x1="319.0" x2="320.0" y1="95.6" y2="95.6"/>
<line x1="319.0" x2="320.0" y1="73.3" y2="73.3"/>
<line x1="319.0" x2="320.0" y1="51.0" y2="51.0"/>
<line x1="319.0" x2="320.0" y1="28.7" y2="28.7"/>
<line x1="513.9" x2="515.7" y1="173.7" y2="173.7"/>
<line x1="513.9" x2="515.7" y1="138.9" y2="138.9"/>
<line x1="513.9" x2="515.7" y1="104.2" y2="104.2"/>
<line x1="513.9" x2="515.7" y1="69.4" y2="69.4"/>
<line x1="513.9" x2="515.7" y1="34.7" y2="34.7"/>
<line x1="514.7" x2="515.7" y1="156.3" y2="156.3"/>
<line x1="514.7" x2="515.7" y1="121.6" y2="121.6"/>
<line x1="514.7" x2="515.7" y1="86.8" y2="86.8"/>
<line x1="514.7" x2="515.7" y1="52.1" y2="52.1"/>
<line x1="327.6" x2="327.6" y1="173.7" y2="175.5"/>
<line x1="347.6" x2="347.6" y1="173.7" y2="175.5"/>
<line x1="367.6" x2="367.6" y1="173.7" y2="175.5"/>
<line x1="387.6" x2="387.6" y1="173.7" y2="175.5"/>
<line x1="407.6" x2="407.6" y1="173.7" y2="175.5"/>
<line x1="427.6" x2="427.6" y1="173.7" y2="175.5"/>
<line x1="447.6" x2="447.6" y1="173.7" y2="175.5"/>
<line x1="467.6" x2="467.6" y1="173.7" y2="175.5"/>
<line x1="487.6" x2="487.6" y1="173.7" y2="175.5"/>
<line x1="507.6" x2="507.6" y1="173.7" y2="175.5"/>
</g>
<g font-family="'Liberation Serif', serif" font-size="6.5" fill="#1a1a1a" stroke="#1a1a1a" stroke-width="0.18">
<text x="317.3" y="176.0" text-anchor="end">0</text>
<text x="317.3" y="153.7" text-anchor="end">1000</text>
<text x="317.3" y="131.4" text-anchor="end">2000</text>
<text x="317.3" y="109.1" text-anchor="end">3000</text>
<text x="317.3" y="86.8" text-anchor="end">4000</text>
<text x="317.3" y="64.5" text-anchor="end">5000</text>
<text x="317.3" y="42.2" text-anchor="end">6000</text>
<text x="317.3" y="19.9" text-anchor="end">7000</text>
<text x="518" y="175.9">0</text>
<text x="518" y="141.1">50,000</text>
<text x="518" y="106.4">100,000</text>
<text x="518" y="71.6">150,000</text>
<text x="518" y="36.9">200,000</text>
<text x="327.6" y="182.8" text-anchor="middle">1975</text>
<text x="347.6" y="182.8" text-anchor="middle">1980</text>
<text x="367.6" y="182.8" text-anchor="middle">1985</text>
<text x="387.6" y="182.8" text-anchor="middle">1990</text>
<text x="407.6" y="182.8" text-anchor="middle">1995</text>
<text x="427.6" y="182.8" text-anchor="middle">2000</text>
<text x="447.6" y="182.8" text-anchor="middle">2005</text>
<text x="467.6" y="182.8" text-anchor="middle">2010</text>
<text x="487.6" y="182.8" text-anchor="middle">2015</text>
<text x="507.6" y="182.8" text-anchor="middle">2020</text>
</g>
<text font-family="'Liberation Serif', serif" font-size="8" font-weight="bold" fill="#111" text-anchor="middle" transform="translate(300.6,95.5) rotate(-90)">Number of publications</text>
<text font-family="'Liberation Serif', serif" font-size="8.3" font-weight="bold" fill="#111" text-anchor="middle" transform="translate(540.4,96.6) rotate(90)">Times cited</text>
<text font-family="'Liberation Serif', serif" font-size="8" font-weight="bold" fill="#111" text-anchor="middle" x="418" y="195.3">Year</text>
<rect x="331" y="34.5" width="62" height="113" fill="#fff" stroke="#9c9c9c" stroke-width="0.55"/>
<g font-family="'Liberation Serif', serif" font-size="5.6" fill="#222" stroke="#222" stroke-width="0.2">
<rect x="332.4" y="35.60" width="12.4" height="6.4" fill="#9fb4dd"/>
<text x="347.2" y="40.7">ALOS</text>
<rect x="332.4" y="43.10" width="12.4" height="6.4" fill="#a3dc86"/>
<text x="347.2" y="48.2">AVHRR</text>
<rect x="332.4" y="50.60" width="12.4" height="6.4" fill="#ffe15c"/>
<text x="347.2" y="55.7">CartoSat</text>
<rect x="332.4" y="58.10" width="12.4" height="6.4" fill="#f3c9a0"/>
<text x="347.2" y="63.2">COSMO-SkyMed</text>
<rect x="332.4" y="65.60" width="12.4" height="6.4" fill="#bdbdbd"/>
<text x="347.2" y="70.7">Fengyun/FY</text>
<rect x="332.4" y="73.10" width="12.4" height="6.4" fill="#fde2cf"/>
<text x="347.2" y="78.2">Gaofen/GF</text>
<rect x="332.4" y="80.60" width="12.4" height="6.4" fill="#e2dfc4"/>
<text x="347.2" y="85.7">IRS</text>
<rect x="332.4" y="88.10" width="12.4" height="6.4" fill="#5fcdb2"/>
<text x="347.2" y="93.2">Landsat</text>
<rect x="332.4" y="95.60" width="12.4" height="6.4" fill="#ffa47e"/>
<text x="347.2" y="100.7">MODIS</text>
<rect x="332.4" y="103.10" width="12.4" height="6.4" fill="#ff9acb"/>
<text x="347.2" y="108.2">RadarSat</text>
<rect x="332.4" y="110.60" width="12.4" height="6.4" fill="#dddcd2"/>
<text x="347.2" y="115.7">Sentinel</text>
<rect x="332.4" y="118.10" width="12.4" height="6.4" fill="#b6c1fb"/>
<text x="347.2" y="123.2">SPOT</text>
<rect x="332.4" y="125.60" width="12.4" height="6.4" fill="#6a7452"/>
<text x="347.2" y="130.7">TerraSAR</text>
<rect x="332.4" y="133.10" width="12.4" height="6.4" fill="#575753"/>
<text x="347.2" y="138.2">WorldView</text>
<rect x="332.4" y="140.60" width="12.4" height="6.4" fill="#f6ba86"/>
<text x="347.2" y="145.7"><tspan font-style="italic">Ziyuan</tspan>/ZY/CBERS</text>
</g>
<text font-family="'Liberation Serif', serif" font-size="10.8" fill="#222" x="413.7" y="255" text-anchor="middle">(<tspan font-weight="bold">b</tspan>)</text>
</svg>
</body></html>
